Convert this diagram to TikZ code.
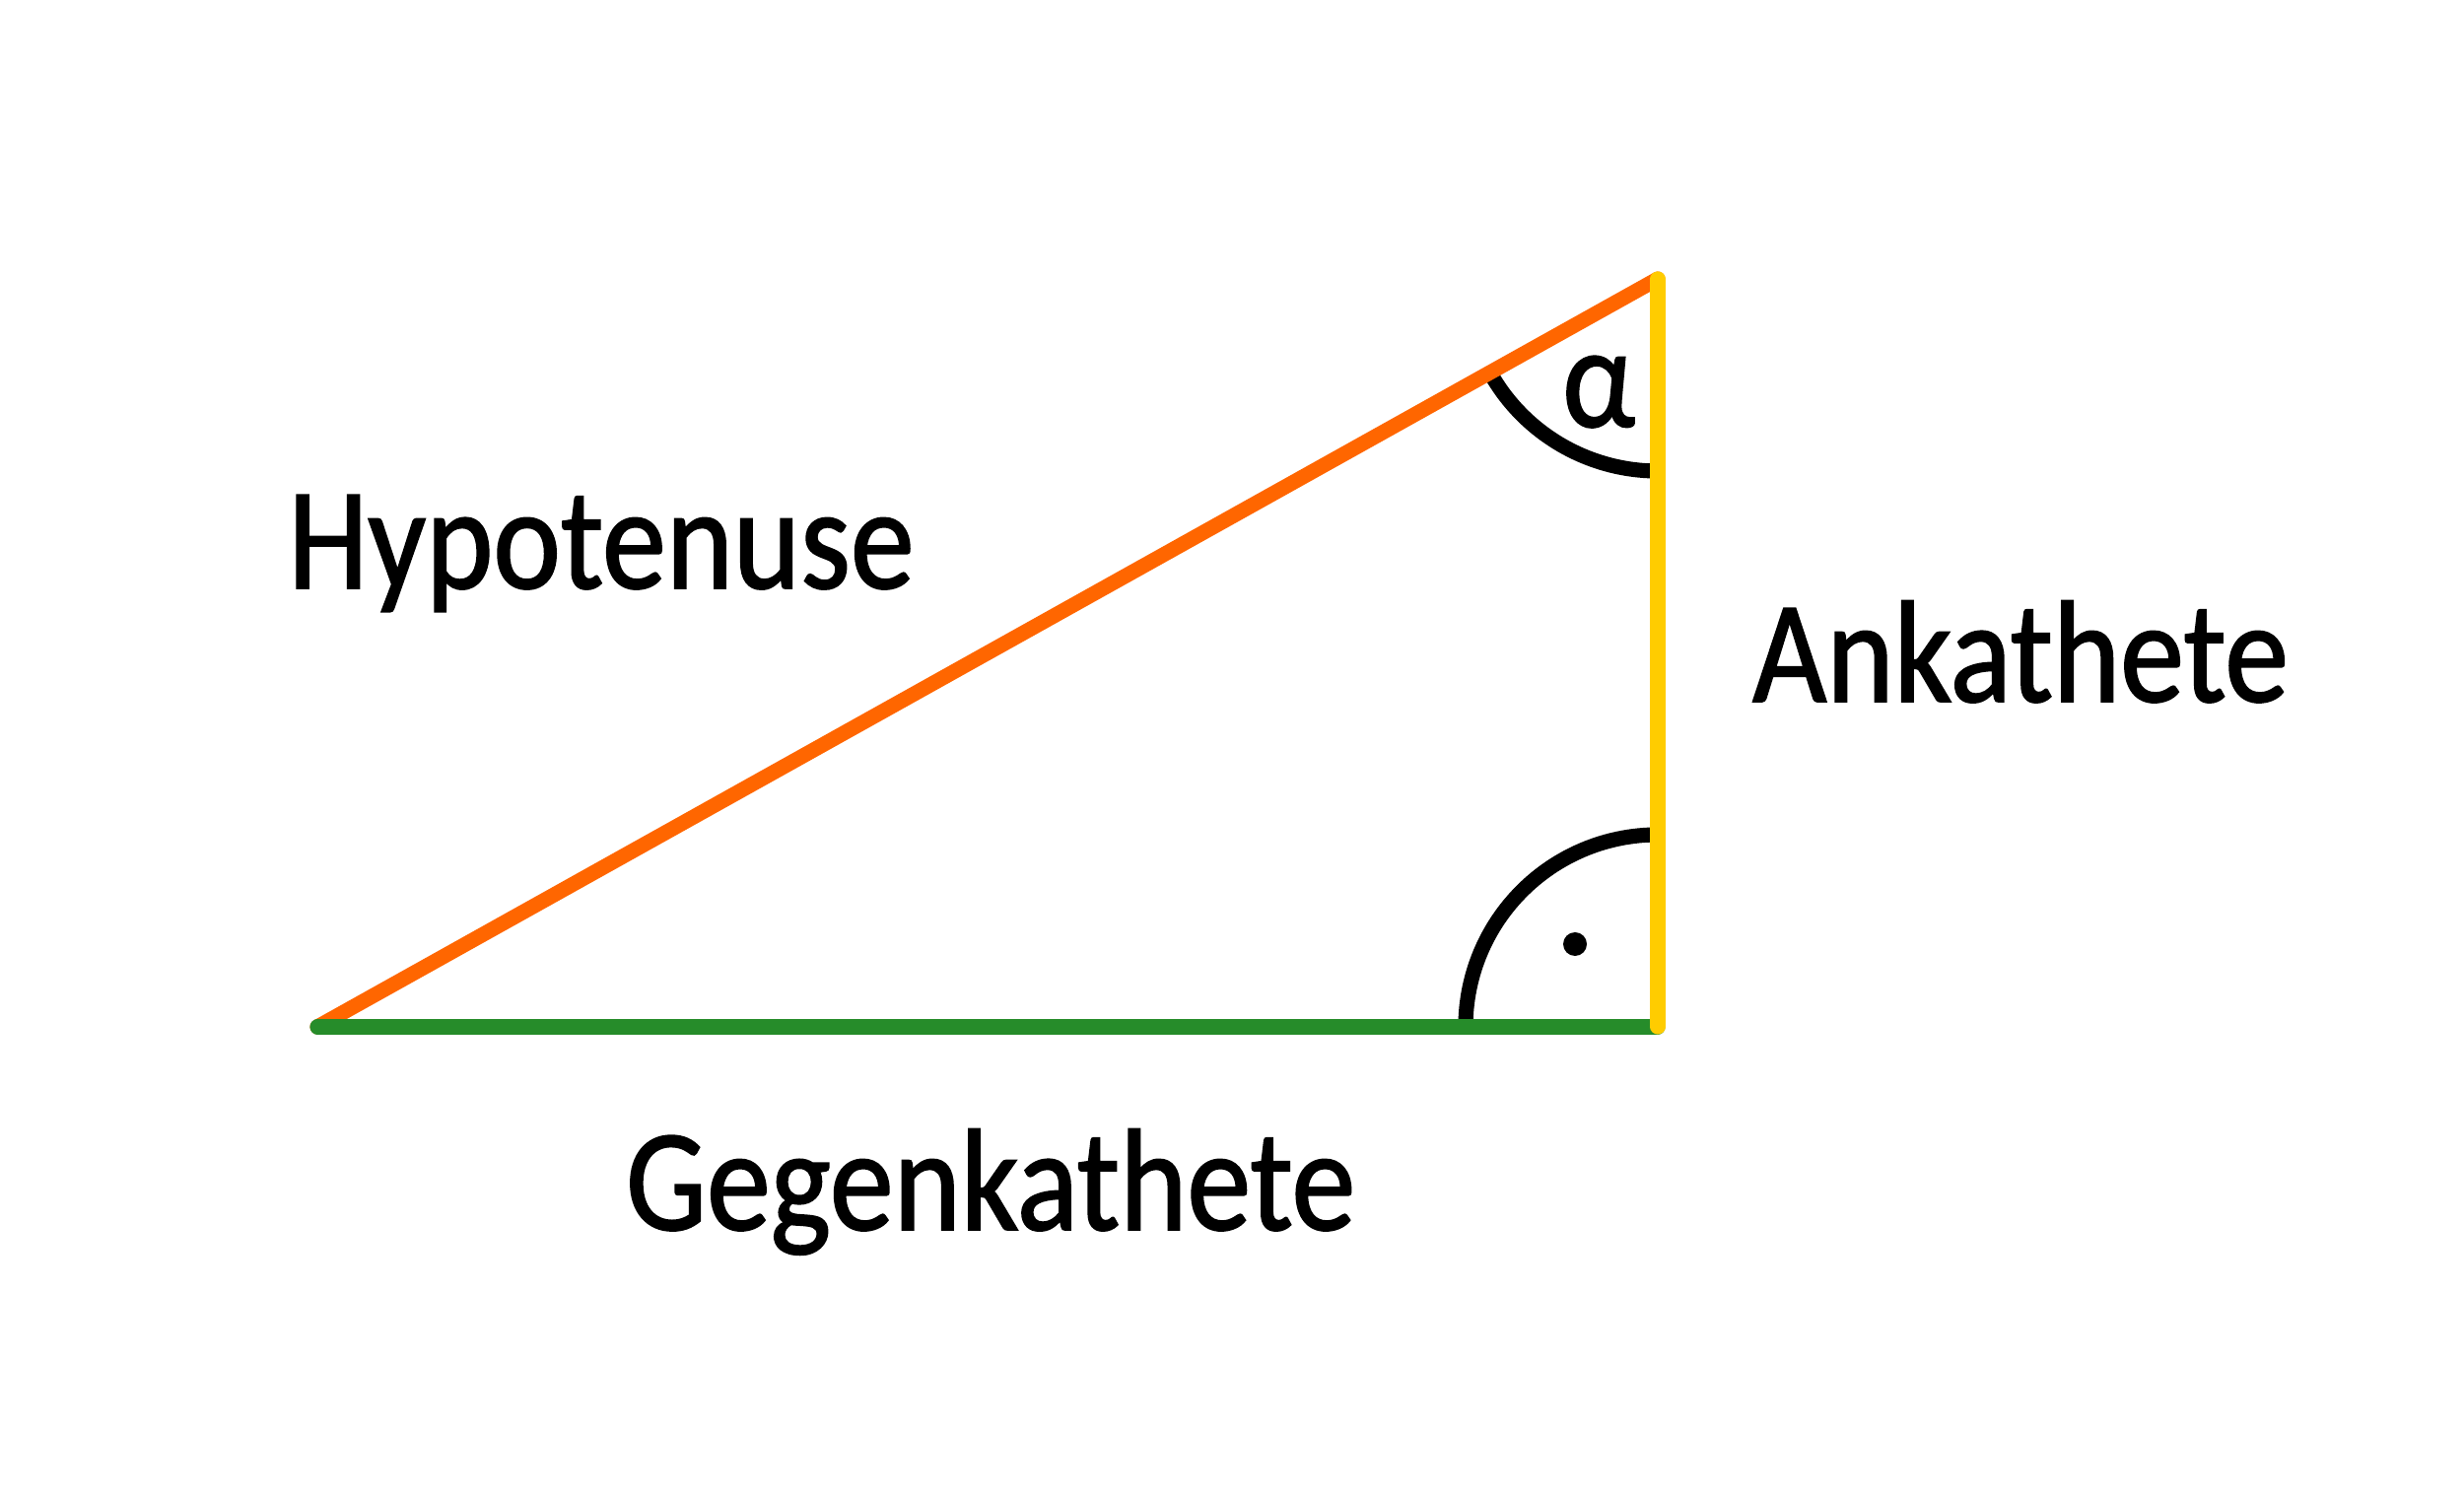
\documentclass[tikz,border=0pt]{standalone}
\usepackage{fontspec}
\usepackage{xcolor}
\usepackage{tikz}
\newfontfamily\labelfont[FakeStretch=0.88, FakeBold=1.2]{Carlito}
\definecolor{hypcolor}{RGB}{255,102,0}
\definecolor{gegcolor}{RGB}{38,140,42}
\definecolor{ankcolor}{RGB}{255,204,0}

\begin{document}
\begin{tikzpicture}[side/.style={line width=4.3pt, line cap=round},
  winkel/.style={line width=4.3pt, black},
  label/.style={font=\labelfont\fontsize{42}{50}\selectfont, anchor=base, inner sep=0pt}]
\useasboundingbox (0,0) rectangle (25,15.15);
\coordinate (A) at (3.22,4.73);
\coordinate (B) at (16.82,12.32);
\coordinate (C) at (16.82,4.73);
\draw[winkel] (C) ++(180:1.95) arc[start angle=180, end angle=90, radius=1.95];
\draw[winkel] (B) ++(209.17:1.95) arc[start angle=209.17, end angle=270, radius=1.95];
\fill (15.98,5.57) circle (0.12);
\draw[side, hypcolor] (A) -- (B);
\draw[side, gegcolor] (A) -- (C);
\draw[side, ankcolor] (C) -- (B);
\node[label] (alpha) at (16.22,10.82) {α};
\node[label] (hyp) at (6.10,9.18) {Hypotenuse};
\node[label] (ank) at (20.50,8.03) {Ankathete};
\node[label] (geg) at (10.05,2.67) {Gegenkathete};
\end{tikzpicture}
\end{document}
